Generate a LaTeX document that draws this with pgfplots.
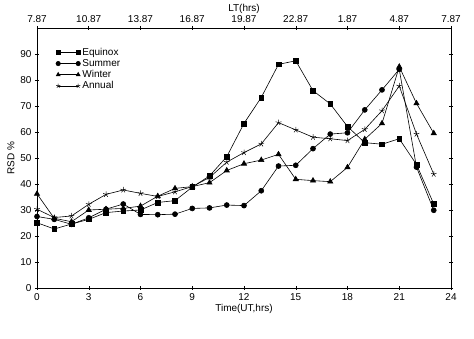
\documentclass[border=0pt]{standalone}
\usepackage{pgfplots}
\pgfplotsset{compat=1.18}
\usepackage{fontspec}
\setmainfont{Liberation Sans}
\pgfplotstableread{
x equ sum win ann
0 25.1 27.5 36.2 30.3
1 22.7 26.4 26.8 27.1
2 24.6 24.5 25.5 27.7
3 26.4 27.0 30.0 32.2
4 29.0 30.3 30.3 36.0
5 29.6 32.3 30.6 37.7
6 30.0 28.3 31.5 36.4
7 32.9 28.2 35.3 35.2
8 33.6 28.4 38.3 37.0
9 38.8 30.6 39.0 39.0
10 43.1 30.8 40.5 42.5
11 50.5 31.9 45.2 48.4
12 63.3 31.7 47.8 52.1
13 73.3 37.4 49.2 55.4
14 86.0 46.9 51.4 63.6
15 87.4 47.2 41.8 60.8
16 75.9 53.6 41.3 58.0
17 70.8 59.2 40.9 57.4
18 62.1 59.7 46.4 56.7
19 55.9 68.5 57.2 61.0
20 55.3 76.2 63.3 68.2
21 57.4 84.1 85.1 77.7
22 47.5 46.5 71.0 59.2
23 32.3 29.9 59.5 43.8
}\data
\begin{document}
\begin{tikzpicture}
\pgfplotsset{
  every axis/.append style={
    scale only axis, width=414pt, height=260pt,
    xmin=0, xmax=24, ymin=0, ymax=100,
    /pgf/number format/assume math mode=true,
    tick align=center, major tick length=4pt,
    tick style={black, line width=0.5pt},
    axis line style={line width=0.6pt},
    tick label style={font=\fontsize{10}{12}\selectfont},
    label style={font=\fontsize{10}{12}\selectfont},
  }
}
\begin{axis}[name=ax,
  xtick={0,3,...,24}, ytick={0,10,...,90},
  xtick pos=bottom,
  xlabel={Time(UT,hrs)}, ylabel={RSD \%},
  xlabel style={yshift=3pt}, ylabel style={yshift=-1pt},
  legend style={draw=none, fill=none, at={(0.043,0.935)}, anchor=north west,
    font=\fontsize{10}{12}\selectfont, row sep=-1.5pt, inner sep=1pt},
  legend cell align=left,
  legend image code/.code={\draw[#1,mark repeat=1,mark phase=1,mark size=2.2pt] plot coordinates {(0pt,0pt) (20pt,0pt)};},
  every axis plot/.append style={black, line width=0.6pt},
]
\addplot[mark=square*, mark size=2.4pt] table[x=x,y=equ] {\data};
\addlegendentry{Equinox}
\addplot[mark=*, mark size=2.5pt] table[x=x,y=sum] {\data};
\addlegendentry{Summer}
\addplot[mark=triangle*, mark size=3pt] table[x=x,y=win] {\data};
\addlegendentry{Winter}
\addplot[mark=star, mark size=3pt, mark options={line width=0.5pt}] table[x=x,y=ann] {\data};
\addlegendentry{Annual}
\end{axis}
\begin{axis}[
  axis x line*=top, axis y line=none,
  xtick={0,3,...,24},
  xticklabels={7.87,10.87,13.87,16.87,19.87,22.87,1.87,4.87,7.87},
  xlabel={LT(hrs)}, xlabel style={yshift=-5pt},
]
\end{axis}
\path (ax.south west) ++(-37pt,-51pt) rectangle ++(474pt,339pt);
\end{tikzpicture}
\end{document}
